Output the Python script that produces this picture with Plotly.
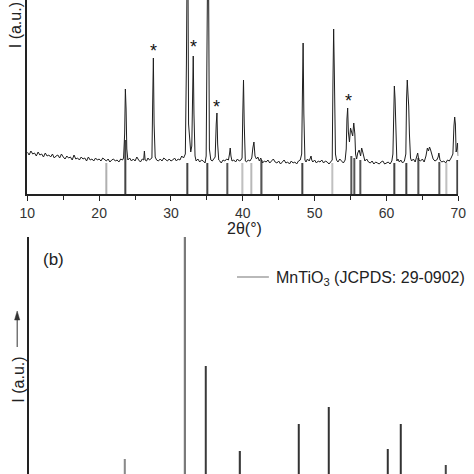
import plotly.graph_objects as go

W, H = 474, 474

# ---------------- data (top panel, intensity in arbitrary units) ----------------
two_theta = [
    10.0, 10.25, 10.5, 10.75, 11.0, 11.25, 11.5, 11.75, 12.0, 12.25,
    12.5, 12.75, 13.0, 13.25, 13.5, 13.75, 14.0, 14.25, 14.5, 14.75,
    15.0, 15.25, 15.5, 15.75, 16.0, 16.25, 16.5, 16.75, 17.0, 17.25,
    17.5, 17.75, 18.0, 18.25, 18.5, 18.75, 19.0, 19.25, 19.5, 19.75,
    20.0, 20.25, 20.5, 20.75, 21.0, 21.25, 21.5, 21.75, 22.0, 22.25,
    22.5, 22.75, 23.0, 23.25,
    23.4, 23.55, 23.65, 23.75, 23.85, 24.0, 24.25, 24.5, 24.75, 25.0,
    25.25, 25.5, 25.75, 26.0, 26.2, 26.3, 26.4, 26.6, 26.8, 27.0, 27.2,
    27.35, 27.45, 27.55, 27.65, 27.8, 28.0, 28.25, 28.5, 28.75, 29.0,
    29.25, 29.5, 29.75, 30.0, 30.25, 30.5, 30.75, 31.0, 31.25, 31.5,
    31.75, 32.0,
    32.15, 32.22, 32.32, 32.45, 32.75, 32.9, 33.0, 33.1, 33.2, 33.35,
    33.5, 33.75, 34.0, 34.25, 34.5, 34.75, 34.9,
    35.02, 35.1, 35.18, 35.35, 35.55, 35.75, 36.0, 36.15, 36.3, 36.4,
    36.5, 36.65, 36.8, 37.0, 37.25, 37.5, 37.75, 38.0, 38.15, 38.25,
    38.35, 38.5, 38.75, 39.0, 39.25, 39.5, 39.75,
    39.9, 40.0, 40.1, 40.2, 40.35, 40.5, 40.75, 41.0, 41.25, 41.4,
    41.55, 41.7, 41.9, 42.1, 42.3, 42.5, 42.75, 43.0, 43.25, 43.5,
    43.75, 44.0, 44.25, 44.5, 44.75, 45.0, 45.25, 45.5, 45.75, 46.0,
    46.25, 46.5, 46.75, 47.0, 47.25, 47.5, 47.75, 48.0,
    48.2, 48.3, 48.4, 48.5, 48.65, 48.8, 49.0, 49.25, 49.5, 49.6,
    49.75, 50.0, 50.25, 50.5, 50.75, 51.0, 51.25, 51.5, 51.75, 52.0,
    52.25, 52.45,
    52.55, 52.65, 52.75, 52.9, 53.05, 53.25, 53.5, 53.75, 54.0, 54.25,
    54.4, 54.5, 54.6, 54.7, 54.85, 55.0, 55.15, 55.3, 55.45, 55.6,
    55.7, 55.85, 56.0, 56.2, 56.4, 56.55, 56.7, 56.85, 57.0, 57.25,
    57.5, 57.75, 58.0, 58.25, 58.5, 58.75, 59.0, 59.25, 59.5, 59.75,
    60.0, 60.25, 60.5, 60.75,
    60.9, 61.0, 61.1, 61.2, 61.3, 61.45, 61.6, 61.8, 62.0, 62.25,
    62.5, 62.7, 62.8, 62.9, 63.0, 63.1, 63.2, 63.35, 63.5, 63.75,
    64.0, 64.2, 64.35, 64.5, 64.75, 65.0, 65.25, 65.5, 65.7, 65.85,
    66.0, 66.15, 66.3, 66.5, 66.75, 67.0, 67.2, 67.3, 67.45, 67.7,
    68.0, 68.25, 68.5, 68.75, 69.0,
    69.25, 69.4, 69.5, 69.6, 69.7, 69.8, 69.9, 70.0,
]
intensity = [
    42, 39, 43, 40, 41, 38, 42, 39, 40, 37,
    41, 38, 39, 37, 40, 36, 38, 39, 36, 40,
    37, 35, 38, 36, 37, 34, 39, 35, 36, 34,
    37, 35, 36, 33, 37, 34, 35, 33, 36, 34,
    35, 33, 36, 34, 33, 35, 32, 34, 35, 33,
    34, 32, 35, 34,
    36, 60, 105, 85, 45, 34, 36, 33, 35, 33,
    37, 34, 32, 35, 34, 43, 34, 33, 36, 34, 35,
    36, 90, 136, 70, 37, 34, 33, 35, 33, 36,
    34, 33, 35, 33, 34, 36, 33, 35, 34, 38,
    36, 40,
    130, 300, 300, 70, 42, 48, 110, 138, 80, 38,
    33, 35, 32, 34, 33, 31, 38,
    150, 300, 300, 45, 34, 33, 35, 37, 70, 81,
    50, 34, 33, 31, 34, 33, 35, 34, 40, 46,
    38, 33, 34, 32, 35, 33, 34,
    36, 80, 114, 70, 33, 32, 34, 33, 36, 46,
    52, 38, 35, 37, 33, 36, 31, 33, 32, 34,
    31, 33, 35, 32, 31, 33, 30, 32, 34, 31,
    32, 30, 33, 31, 32, 30, 33, 34,
    40, 100, 151, 80, 34, 32, 35, 33, 38, 34,
    32, 34, 31, 33, 32, 34, 31, 33, 32, 30,
    33, 34,
    110, 165, 120, 40, 34, 32, 35, 33, 31, 34,
    45, 75, 86, 62, 52, 66, 62, 58, 71, 60,
    40, 35, 41, 44, 38, 46, 42, 36, 33, 35,
    32, 31, 33, 30, 32, 31, 30, 32, 33, 30,
    31, 32, 30, 33,
    40, 90, 108, 95, 55, 33, 35, 32, 34, 31,
    33, 40, 95, 114, 100, 88, 60, 36, 33, 35,
    32, 36, 41, 34, 33, 35, 32, 38, 46, 43,
    47, 44, 40, 35, 33, 34, 37, 41, 34, 32,
    33, 31, 34, 33, 36,
    40, 68, 77, 70, 42, 45, 51, 38,
]

# reference sticks drawn under the measured pattern
ref_top_pos = [21.0, 23.7, 32.3, 35.1, 37.9, 40.0, 41.2, 42.65, 48.3,
               52.5, 55.1, 55.55, 56.4, 61.1, 62.8, 64.5, 67.4, 68.4, 69.9]
ref_top_h = [31, 54, 31, 31, 31, 31, 31, 34, 31,
             31, 38, 36, 34, 31, 31, 36, 32, 31, 34]
ref_top_col = ['#b0b0b0', '#444', '#444', '#444', '#555', '#c0c0c0', '#b8b8b8', '#555', '#444',
               '#c0c0c0', '#555', '#555', '#555', '#444', '#444', '#555', '#555', '#c0c0c0', '#444']

# asterisk-marked peaks
star_pos = [27.55, 33.1, 36.4, 54.75]
star_h = [143, 147, 87, 93]

# panel (b): MnTiO3 JCPDS 29-0902 stick pattern
ref_b_pos = [23.7, 32.25, 35.1, 40.05, 48.4, 52.6, 61.0, 62.85, 69.3]
ref_b_h = [31, 253, 124, 39, 66, 83, 41, 66, 25]
ref_b_col = ['#8a8a8a', '#7a7a7a', '#3a3a3a', '#3a3a3a', '#333', '#333', '#333', '#333', '#444']

FONT = 'Liberation Sans, Arial, sans-serif'


def px(p):
    return p / W


def py(p):
    return 1 - p / H


fig = go.Figure()
fig.add_trace(go.Bar(x=ref_top_pos, y=ref_top_h, width=0.17,
                     marker=dict(color=ref_top_col, line=dict(width=0)),
                     xaxis='x', yaxis='y', hoverinfo='skip'))
fig.add_trace(go.Scatter(x=two_theta, y=intensity, mode='lines',
                         line=dict(color='#1e1e1e', width=1),
                         xaxis='x', yaxis='y'))
fig.add_trace(go.Bar(x=ref_b_pos, y=ref_b_h, width=0.18,
                     marker=dict(color=ref_b_col, line=dict(width=0)),
                     xaxis='x2', yaxis='y2'))

ann = []
for xs, ys in zip(star_pos, star_h):
    ann.append(dict(x=xs, y=ys, xref='x', yref='y', text='*', showarrow=False,
                    font=dict(family=FONT, size=18, color='#111'),
                    xanchor='center', yanchor='middle'))

ann += [
    dict(x=px(245), y=py(228), xref='paper', yref='paper', text='2θ(°)', showarrow=False,
         font=dict(family=FONT, size=16, color='#222'), xanchor='center', yanchor='middle'),
    dict(x=px(7.5), y=py(25), xref='paper', yref='paper', text='I (a.u.)', showarrow=False,
         textangle=-90, font=dict(family=FONT, size=16, color='#222'),
         xanchor='center', yanchor='middle'),
    dict(x=px(47.5), y=py(259), xref='paper', yref='paper', text='(b)', showarrow=False,
         font=dict(family=FONT, size=17, color='#222'), xanchor='center', yanchor='middle'),
    dict(x=px(10), y=py(380), xref='paper', yref='paper', text='I (a.u.)', showarrow=False,
         textangle=-90, font=dict(family=FONT, size=16, color='#222'),
         xanchor='center', yanchor='middle'),
    dict(x=px(275), y=py(278), xref='paper', yref='paper',
         text='MnTiO<sub>3</sub> (JCPDS: 29-0902)', showarrow=False,
         font=dict(family=FONT, size=16, color='#222'), xanchor='left', yanchor='middle'),
]

head = 'M {:.5f} {:.5f} L {:.5f} {:.5f} L {:.5f} {:.5f} Z'.format(
    px(6.8), py(320), px(9.5), py(311), px(12.2), py(320))

shapes = [
    dict(type='line', xref='paper', yref='paper', x0=px(237), x1=px(270),
         y0=py(277), y1=py(277), line=dict(color='#8a8a8a', width=1.2)),
    dict(type='line', xref='paper', yref='paper', x0=px(9.5), x1=px(9.5),
         y0=py(347), y1=py(318), line=dict(color='#333', width=1)),
    dict(type='path', xref='paper', yref='paper', path=head,
         fillcolor='#333', line=dict(color='#333', width=0.5)),
]

fig.update_layout(
    width=W, height=H,
    margin=dict(l=0, r=0, t=0, b=0),
    paper_bgcolor='white', plot_bgcolor='white',
    showlegend=False,
    barmode='overlay',
    annotations=ann,
    shapes=shapes,
    xaxis=dict(domain=[px(20), px(466)], range=[10, 70], anchor='y',
               showline=True, linecolor='#222', linewidth=1.5,
               ticks='outside', ticklen=5, tickwidth=1.2, tickcolor='#222',
               tickvals=[10, 20, 30, 40, 50, 60, 70],
               tickfont=dict(family=FONT, size=14, color='#333'),
               minor=dict(tickvals=[15, 25, 35, 45, 55, 65], ticks='outside',
                          ticklen=4, tickwidth=1.2, tickcolor='#222'),
               showgrid=False, zeroline=False),
    yaxis=dict(domain=[py(194), 1], range=[0, 194], anchor='x',
               showline=True, linecolor='#222', linewidth=1.5,
               showticklabels=False, ticks='', showgrid=False, zeroline=False),
    xaxis2=dict(domain=[px(21.5), px(458.5)], range=[10, 70], anchor='y2',
                visible=False),
    yaxis2=dict(domain=[0, py(237)], range=[16, 253], anchor='x2',
                showline=True, linecolor='#222', linewidth=1.5,
                showticklabels=False, ticks='', showgrid=False, zeroline=False),
)

fig.write_html('out.html')
